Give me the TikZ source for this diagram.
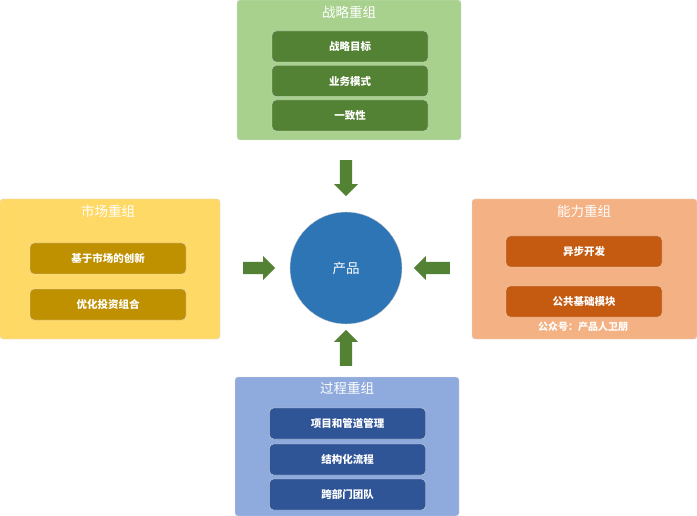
\documentclass[tikz,border=0pt]{standalone}
\usepackage{fontspec}
\setmainfont{Noto Sans CJK SC}
\usetikzlibrary{shapes.arrows}
\definecolor{gA}{HTML}{A9D18E}\definecolor{gB}{HTML}{548235}
\definecolor{yA}{HTML}{FFD966}\definecolor{yB}{HTML}{BF9000}
\definecolor{oA}{HTML}{F4B183}\definecolor{oB}{HTML}{C55A11}
\definecolor{bA}{HTML}{8FAADC}\definecolor{bB}{HTML}{2F5597}
\definecolor{cc}{HTML}{2E75B6}
\tikzset{
 panel/.style={rounded corners=3pt,draw=black!15},
 inner/.style={rounded corners=4pt,draw=white!70!gray,minimum width=156pt,minimum height=31pt,text=white,font=\fontsize{10.5}{12}\selectfont\bfseries},
 ttl/.style={text=white,font=\fontsize{13.5}{15}\selectfont},
 barrow/.style={single arrow,fill=gB,draw=none,minimum height=36pt,minimum width=24pt,single arrow head extend=3pt,inner sep=3pt}
}
\begin{document}
\begin{tikzpicture}[x=1pt,y=-1pt]
\useasboundingbox (0,0) rectangle (697,516);
% top
\fill[gA,panel] (237,0) rectangle (461,140);
\node[ttl] (t0) at (349,12) {战略重组};
\node[inner,fill=gB] (t1) at (350,46.5) {战略目标};
\node[inner,fill=gB] (t2) at (350,81) {业务模式};
\node[inner,fill=gB] (t3) at (350,115.5) {一致性};
% left
\fill[yA,panel] (0,199) rectangle (220,339);
\node[ttl] (l0) at (108,211) {市场重组};
\node[inner,fill=yB] (l1) at (108,258.5) {基于市场的创新};
\node[inner,fill=yB] (l2) at (108,304.5) {优化投资组合};
% right
\fill[oA,panel] (472,199) rectangle (697,339);
\node[ttl] (r0) at (584,211) {能力重组};
\node[inner,fill=oB] (r1) at (584,251.5) {异步开发};
\node[inner,fill=oB] (r2) at (584,301.5) {公共基础模块};
\node[text=white,font=\fontsize{10}{11}\selectfont\bfseries] (r3) at (583,327) {公众号：产品人卫朋};
% bottom
\fill[bA,panel] (235,377) rectangle (459,516);
\node[ttl] (b0) at (347,388) {过程重组};
\node[inner,fill=bB] (b1) at (347.5,423.5) {项目和管道管理};
\node[inner,fill=bB] (b2) at (347.5,459.5) {结构化流程};
\node[inner,fill=bB] (b3) at (347.5,494.5) {跨部门团队};
% center
\node[circle,fill=cc,draw=black!20,minimum size=112pt,text=white,font=\fontsize{13.5}{15}\selectfont] (c) at (346,268) {产品};
% arrows
\node[barrow,rotate=-90] (a1) at (346,175) {};
\node[barrow,minimum height=32pt] (a2) at (256,268) {};
\node[barrow,rotate=180] (a3) at (435,268) {};
\node[barrow,rotate=90] (a4) at (346,351) {};
\end{tikzpicture}
\end{document}
